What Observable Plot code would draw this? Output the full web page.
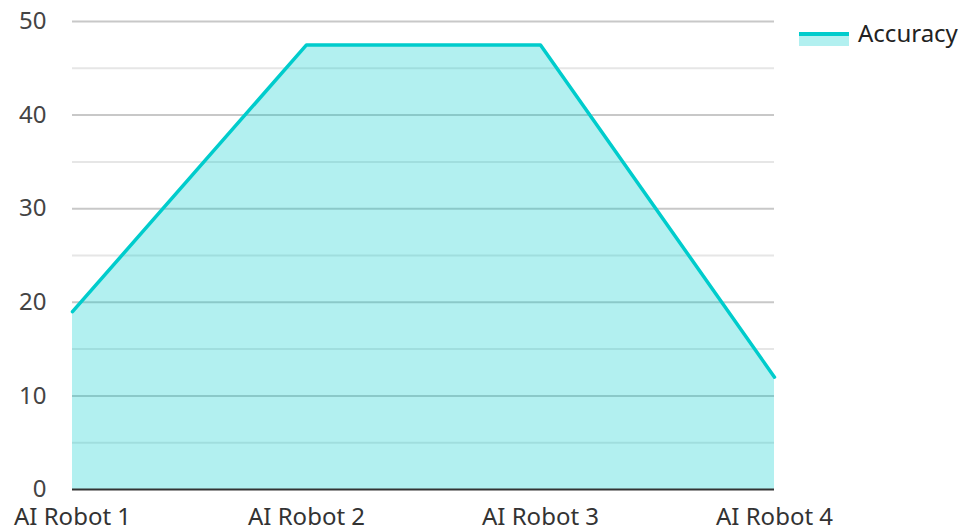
<!DOCTYPE html>
<html>
<head>
<meta charset="utf-8">
<script src="https://cdn.jsdelivr.net/npm/d3@7"></script>
<script src="https://cdn.jsdelivr.net/npm/@observablehq/plot@0.6"></script>
<style>
  html, body { margin: 0; padding: 0; background: #fff; }
  #wrap { position: relative; width: 964px; height: 528px; font-family: "Noto Sans", "Open Sans", sans-serif; }
  #legend-sw-fill { position: absolute; left: 799px; top: 35px; width: 50px; height: 10.5px; background: rgba(0,204,204,0.3); }
  #legend-sw-line { position: absolute; left: 799px; top: 32px; width: 50px; height: 3.5px; background: #00cccc; }
  #legend-text { position: absolute; left: 858px; top: 21px; font-size: 24px; line-height: 24px; color: #222; white-space: nowrap; }
</style>
</head>
<body>
<div id="wrap">
  <div id="chart"></div>
  <div id="legend-sw-fill"></div>
  <div id="legend-sw-line"></div>
  <div id="legend-text"></div>
</div>
<script>
const robots = ["AI Robot 1", "AI Robot 2", "AI Robot 3", "AI Robot 4"];
const accuracy = [19, 47.5, 47.5, 12];
const majorTicks = [0, 10, 20, 30, 40, 50];
const minorTicks = [5, 15, 25, 35, 45];
const seriesName = "Accuracy";

document.getElementById("legend-text").textContent = seriesName;

const data = robots.map((r, i) => ({robot: r, value: accuracy[i]}));

const chart = Plot.plot({
  width: 964,
  height: 528,
  marginLeft: 72,
  marginRight: 190,
  marginTop: 21,
  marginBottom: 39,
  style: {fontFamily: "'Noto Sans', 'Open Sans', sans-serif", fontSize: "24px", background: "#fff", overflow: "visible"},
  x: {type: "point", domain: robots, padding: 0, label: null},
  y: {domain: [0, 50], label: null},
  marks: [
    Plot.ruleY(minorTicks, {stroke: "#e6e6e6", strokeWidth: 2}),
    Plot.ruleY(majorTicks.filter(d => d > 0), {stroke: "#c8c8c8", strokeWidth: 2}),
    Plot.areaY(data, {x: "robot", y: "value", fill: "#00cccc", fillOpacity: 0.3}),
    Plot.lineY(data, {x: "robot", y: "value", stroke: "#00cccc", strokeWidth: 3.5}),
    Plot.ruleY([0], {stroke: "#333", strokeWidth: 2}),
    Plot.axisY({ticks: majorTicks, tickSize: 0, tickPadding: 26, fill: "#444", fontSize: 24, label: null}),
    Plot.axisX({tickSize: 0, tickPadding: 18, fill: "#333", fontSize: 24, label: null})
  ]
});
document.getElementById("chart").appendChild(chart);
</script>
</body>
</html>
